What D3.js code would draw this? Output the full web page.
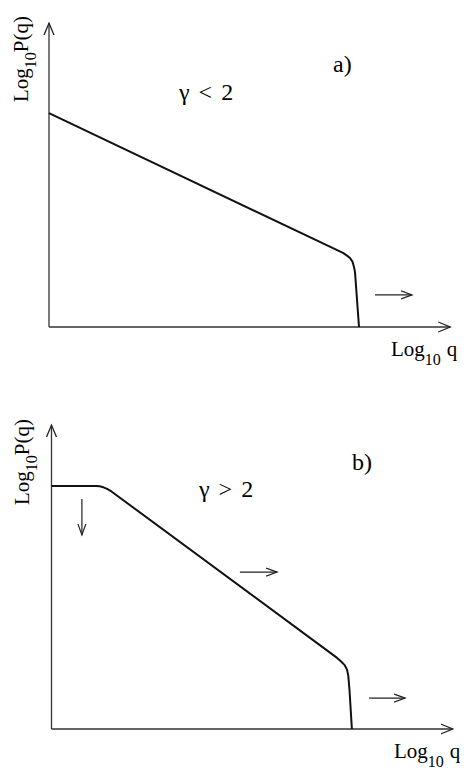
<!DOCTYPE html>
<html>
<head>
<meta charset="utf-8">
<script src="https://cdn.jsdelivr.net/npm/d3@7"></script>
</head>
<body style="margin:0">
<div id="chart"></div>
<script>
// schematic curves, arbitrary log units
var curveA = [[0, 7.13], [7.35, 2.47], [7.45, 2.38], [7.525, 2.3], [7.59, 2.17], [7.625, 2.0],
              [7.65, 1.83], [7.75, 0]];
var curveB = [[0, 8.1], [1.1125, 8.1], [1.205, 8.089], [1.30, 8.057], [1.39, 8.003], [1.49, 7.927],
              [7.14, 2.37], [7.24, 2.25], [7.33, 2.13], [7.39, 1.97], [7.42, 1.77], [7.45, 1.3], [7.51, 0]];

// small arrows: [x1, y1, x2, y2]
var arrowsA = [[8.15, 1.07, 9.075, 1.07]];
var arrowsB = [[0.76, 7.67, 0.76, 6.47], [4.71, 5.23, 5.64, 5.23], [7.94, 1.03, 8.84, 1.03]];

var labelsA = ["a)", "\u03b3 < 2"];
var labelsB = ["b)", "\u03b3 > 2"];
var axisEnd = [10.03, 10.13];

var fontName = "'Liberation Serif'";

function init() {
  var w = 474, h = 782;

  var svg = d3.select("#chart").append("svg")
    .attr("width", w)
    .attr("height", h);

  var defs = svg.append("defs");
  // open chevron heads
  defs.append("marker")
    .attr("id", "axhead")
    .attr("markerUnits", "userSpaceOnUse")
    .attr("markerWidth", 14).attr("markerHeight", 12)
    .attr("refX", 12).attr("refY", 6)
    .attr("orient", "auto")
    .append("path")
    .attr("d", "M0,1 L12,6 L0,11")
    .attr("fill", "none").attr("stroke", "#222").attr("stroke-width", 1.3);

  defs.append("marker")
    .attr("id", "smhead")
    .attr("markerUnits", "userSpaceOnUse")
    .attr("markerWidth", 13).attr("markerHeight", 10)
    .attr("refX", 11).attr("refY", 5)
    .attr("orient", "auto")
    .append("path")
    .attr("d", "M0,1 L11,5 L0,9")
    .attr("fill", "none").attr("stroke", "#222").attr("stroke-width", 1.2);

  function panel(p) {
    var x = d3.scaleLinear().domain([0, 10]).range([p.left, p.left + 400]);
    var y = d3.scaleLinear().domain([0, 10]).range([p.bottom, p.bottom - 300]);
    var g = svg.append("g");

    // axes
    g.append("line")
      .attr("x1", x(0)).attr("y1", y(0))
      .attr("x2", x(axisEnd[0])).attr("y2", y(0))
      .attr("stroke", "#333").attr("stroke-width", 1.3)
      .attr("marker-end", "url(#axhead)");
    g.append("line")
      .attr("x1", x(0)).attr("y1", y(0))
      .attr("x2", x(0)).attr("y2", y(axisEnd[1]))
      .attr("stroke", "#333").attr("stroke-width", 1.3)
      .attr("marker-end", "url(#axhead)");

    // curve
    var line = d3.line()
      .x(function(d) { return x(d[0]); })
      .y(function(d) { return y(d[1]); });
    g.append("path")
      .datum(p.curve)
      .attr("d", line)
      .attr("fill", "none")
      .attr("stroke", "#111")
      .attr("stroke-width", 2)
      .attr("stroke-linejoin", "round");

    // arrows
    g.selectAll(".arr")
      .data(p.arrows)
      .enter()
      .append("line")
      .attr("x1", function(d) { return x(d[0]); })
      .attr("y1", function(d) { return y(d[1]); })
      .attr("x2", function(d) { return x(d[2]); })
      .attr("y2", function(d) { return y(d[3]); })
      .attr("stroke", "#222").attr("stroke-width", 1.2)
      .attr("marker-end", "url(#smhead)");

    // panel letter and gamma
    g.append("text")
      .attr("x", p.letterPos[0]).attr("y", p.letterPos[1])
      .style("font-family", fontName)
      .style("font-size", "24px")
      .text(p.labels[0]);
    g.append("text")
      .attr("x", p.gammaPos[0]).attr("y", p.gammaPos[1])
      .style("font-family", fontName)
      .style("font-size", "24px")
      .style("word-spacing", "3px")
      .text(p.labels[1]);

    // x label
    var xl = g.append("text")
      .attr("x", p.xlab[0]).attr("y", p.xlab[1])
      .style("font-family", fontName)
      .style("font-size", "21px");
    xl.append("tspan").text("Log");
    xl.append("tspan").attr("dy", 9).style("font-size", "16px").text("10");
    xl.append("tspan").attr("dy", -9).attr("dx", 6).text("q");

    // y label
    var yl = g.append("text")
      .attr("transform", "translate(" + p.ylab[0] + "," + p.ylab[1] + ") rotate(-90)")
      .style("font-family", fontName)
      .style("font-size", "21px");
    yl.append("tspan").text("Log");
    yl.append("tspan").attr("dy", 8).style("font-size", "16px").text("10");
    yl.append("tspan").attr("dy", -8).text("P(q)");
  }

  panel({
    left: 49, bottom: 327, curve: curveA, arrows: arrowsA, labels: labelsA,
    letterPos: [333, 72], gammaPos: [179, 100], xlab: [391, 356], ylab: [28, 102]
  });
  panel({
    left: 51.5, bottom: 729, curve: curveB, arrows: arrowsB, labels: labelsB,
    letterPos: [352, 470], gammaPos: [199, 497], xlab: [394, 758], ylab: [29, 505]
  });
}
init();
</script>
</body>
</html>
